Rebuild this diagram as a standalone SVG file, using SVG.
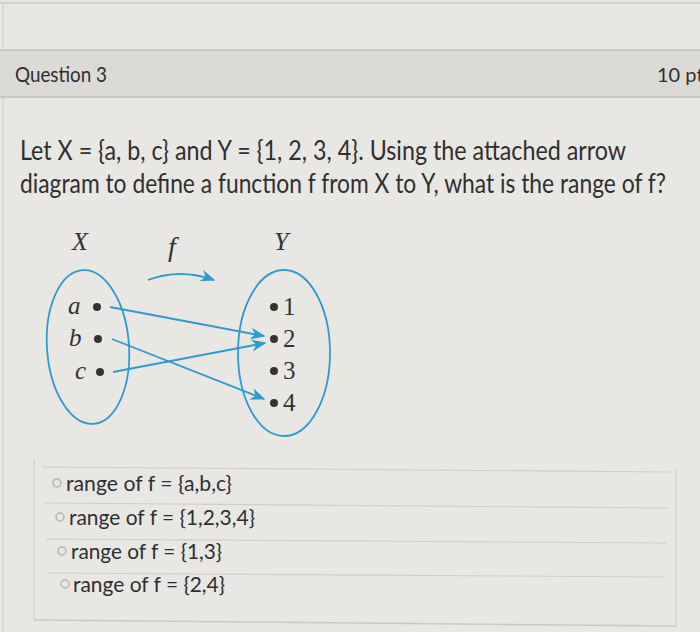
<svg xmlns="http://www.w3.org/2000/svg" width="700" height="632" viewBox="0 0 700 632">
<defs>
<style>
.ui{font-family:Lato,"Liberation Sans",sans-serif;fill:#2f2f2f}
.math{font-family:"Liberation Serif","DejaVu Serif",serif;fill:#333}
.it{font-style:italic}
.blue{stroke:#2f9ad0;stroke-width:1.8;fill:none}
.sep{stroke:#cfcdc9;stroke-width:1.2}
.radio{fill:none;stroke:#b5b3b0;stroke-width:1.5}
</style>
<marker id="ah" viewBox="0 0 10 10" refX="9" refY="5" markerWidth="15" markerHeight="12" markerUnits="userSpaceOnUse" orient="auto" preserveAspectRatio="none">
<path d="M0,0 L10,5 L0,10 L3,5 Z" fill="#2f9ad0"/>
</marker>
</defs>
<rect width="700" height="632" fill="#e8e7e4"/>
<line x1="0" y1="3" x2="700" y2="3" stroke="#c9c7c3" stroke-width="1.5"/>
<line x1="3" y1="3" x2="3" y2="632" stroke="#cfcdc9" stroke-width="1"/>
<g id="header">
<rect x="0" y="50" width="700" height="47" fill="#dcdad6"/>
<line x1="0" y1="50" x2="700" y2="50" stroke="#c2c0bc" stroke-width="1.5"/>
<line x1="0" y1="97" x2="700" y2="97" stroke="#c2c0bc" stroke-width="1.5"/>
<text class="ui" x="15" y="82" font-size="21" textLength="92" lengthAdjust="spacingAndGlyphs">Question 3</text>
<text class="ui" x="657" y="82" font-size="20" fill="#444">10 pt</text>
</g>
<g id="question">
<text class="ui" x="20" y="160" font-size="26" textLength="606" lengthAdjust="spacingAndGlyphs">Let X = {a, b, c} and Y = {1, 2, 3, 4}. Using the attached arrow</text>
<text class="ui" x="20" y="193" font-size="26" textLength="646" lengthAdjust="spacingAndGlyphs">diagram to define a function f from X to Y, what is the range of f?</text>
</g>
<g id="set-X">
<text class="math it" x="72" y="250" font-size="26">X</text>
<ellipse cx="88" cy="347" rx="41" ry="77" transform="rotate(-4 88 347)" class="blue" stroke-width="2"/>
<text class="math it" x="68" y="314" font-size="25">a</text>
<circle cx="97" cy="307" r="4" fill="#333"/>
<text class="math it" x="69" y="346" font-size="25">b</text>
<circle cx="98" cy="339" r="4" fill="#333"/>
<text class="math it" x="75" y="379" font-size="25">c</text>
<circle cx="100" cy="372" r="4" fill="#333"/>
</g>
<g id="set-Y">
<text class="math it" x="274" y="250" font-size="26">Y</text>
<ellipse cx="284" cy="353" rx="46" ry="83" class="blue" stroke-width="2"/>
<circle cx="274" cy="307" r="4" fill="#333"/>
<text class="math" x="283" y="315" font-size="25">1</text>
<circle cx="274" cy="339" r="4" fill="#333"/>
<text class="math" x="283" y="347" font-size="25">2</text>
<circle cx="274" cy="371" r="4" fill="#333"/>
<text class="math" x="283" y="379" font-size="25">3</text>
<circle cx="274" cy="403" r="4" fill="#333"/>
<text class="math" x="283" y="411" font-size="25">4</text>
</g>
<g id="f-label">
<text class="math it" x="168" y="256" font-size="28">f</text>
</g>
<g id="connectors">
<path class="blue" d="M148,280 Q180,268 214,280" marker-end="url(#ah)" stroke-width="2"/>
<line class="blue" x1="110" y1="307" x2="264" y2="336" marker-end="url(#ah)"/>
<line class="blue" x1="112" y1="339" x2="264" y2="399" marker-end="url(#ah)"/>
<line class="blue" x1="113" y1="372" x2="265" y2="343" marker-end="url(#ah)"/>
</g>
<g id="options">
<line x1="34" y1="460" x2="34" y2="620" stroke="#cfcdc9" stroke-width="1.2"/>
<line x1="34" y1="620" x2="676" y2="626" stroke="#c9c7c3" stroke-width="1.5"/>
<line x1="676" y1="470" x2="676" y2="626" stroke="#cfcdc9" stroke-width="1.2"/>
<line class="sep" x1="42" y1="467" x2="670" y2="472"/>
<line class="sep" x1="44" y1="503" x2="668" y2="508"/>
<line class="sep" x1="46" y1="539" x2="666" y2="543"/>
<line class="sep" x1="48" y1="573" x2="664" y2="577"/>
<circle class="radio" cx="57" cy="483" r="4"/>
<text class="ui" x="66" y="491" font-size="22" textLength="166" lengthAdjust="spacingAndGlyphs">range of f = {a,b,c}</text>
<circle class="radio" cx="60" cy="517" r="4"/>
<text class="ui" x="69" y="525" font-size="22" textLength="186" lengthAdjust="spacingAndGlyphs">range of f = {1,2,3,4}</text>
<circle class="radio" cx="62" cy="551" r="4"/>
<text class="ui" x="71" y="559" font-size="22" textLength="151" lengthAdjust="spacingAndGlyphs">range of f = {1,3}</text>
<circle class="radio" cx="65" cy="584" r="4"/>
<text class="ui" x="73" y="592" font-size="22" textLength="152" lengthAdjust="spacingAndGlyphs">range of f = {2,4}</text>
</g>
</svg>
